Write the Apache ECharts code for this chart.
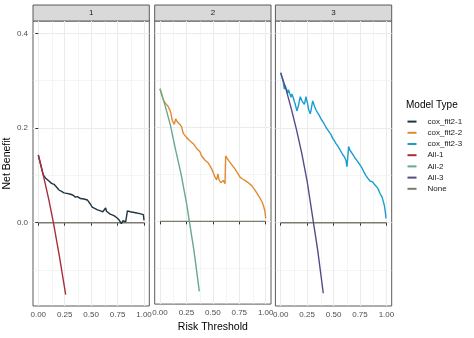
<!DOCTYPE html>
<html>
<head>
<meta charset="utf-8">
<script src="https://cdn.jsdelivr.net/npm/echarts@6/dist/echarts.min.js"></script>
<style>html,body{margin:0;padding:0;background:#fff}#c{width:474px;height:338px}</style>
</head>
<body>
<div id="c"></div>
<script>
// ---- data ----
const panels = ['1', '2', '3'];
const xTicks = [0, 0.25, 0.5, 0.75, 1];
const xMinor = [0.125, 0.375, 0.625, 0.875];
const yTicks = [0, 0.2, 0.4];
const yMinor = [-0.1, 0.1, 0.3];

const coxFit1 = [[0,0.143],[0.02,0.125],[0.047,0.101],[0.07,0.094],[0.101,0.088],[0.125,0.083],[0.149,0.081],[0.17,0.076],[0.196,0.069],[0.22,0.066],[0.243,0.063],[0.27,0.062],[0.306,0.060],[0.33,0.058],[0.35,0.054],[0.369,0.055],[0.40,0.051],[0.432,0.050],[0.45,0.046],[0.464,0.048],[0.49,0.040],[0.51,0.033],[0.527,0.030],[0.56,0.027],[0.590,0.025],[0.61,0.023],[0.637,0.031],[0.645,0.024],[0.653,0.020],[0.68,0.018],[0.716,0.015],[0.74,0.011],[0.763,0.006],[0.786,-0.002],[0.80,0.004],[0.811,0.006],[0.827,0.002],[0.836,0.003],[0.843,0.025],[0.87,0.023],[0.92,0.021],[0.96,0.019],[0.994,0.017],[1.0,0.005]];
const all1 = [[0,0.143],[0.05,0.098],[0.10,0.048],[0.143,0.0],[0.20,-0.071],[0.259,-0.152]];

const coxFit2 = [[0,0.282],[0.015,0.27],[0.031,0.259],[0.047,0.252],[0.063,0.253],[0.075,0.245],[0.085,0.242],[0.095,0.236],[0.104,0.229],[0.115,0.215],[0.126,0.214],[0.135,0.206],[0.148,0.218],[0.16,0.213],[0.173,0.211],[0.189,0.206],[0.205,0.201],[0.22,0.187],[0.237,0.189],[0.252,0.178],[0.268,0.182],[0.284,0.171],[0.30,0.170],[0.315,0.165],[0.331,0.160],[0.347,0.155],[0.36,0.152],[0.378,0.148],[0.394,0.139],[0.41,0.136],[0.426,0.130],[0.442,0.128],[0.457,0.124],[0.473,0.118],[0.489,0.111],[0.505,0.103],[0.52,0.094],[0.536,0.088],[0.548,0.101],[0.558,0.089],[0.574,0.082],[0.583,0.083],[0.599,0.087],[0.605,0.083],[0.615,0.080],[0.621,0.139],[0.638,0.133],[0.653,0.128],[0.68,0.120],[0.71,0.111],[0.73,0.104],[0.757,0.094],[0.78,0.090],[0.804,0.087],[0.83,0.083],[0.868,0.076],[0.90,0.066],[0.93,0.055],[0.95,0.048],[0.968,0.040],[0.98,0.032],[0.993,0.021],[1.0,0.006]];
const all2 = [[0,0.282],[0.05,0.245],[0.10,0.203],[0.142,0.158],[0.20,0.100],[0.25,0.04],[0.278,0.0],[0.32,-0.06],[0.372,-0.149]];

const coxFit3 = [[0,0.316],[0.015,0.305],[0.025,0.296],[0.034,0.282],[0.042,0.290],[0.05,0.286],[0.058,0.280],[0.066,0.273],[0.074,0.281],[0.082,0.284],[0.09,0.270],[0.098,0.265],[0.106,0.272],[0.114,0.276],[0.122,0.262],[0.129,0.256],[0.138,0.250],[0.145,0.246],[0.153,0.236],[0.161,0.232],[0.169,0.248],[0.177,0.258],[0.185,0.266],[0.192,0.264],[0.200,0.258],[0.208,0.255],[0.216,0.262],[0.224,0.250],[0.232,0.258],[0.239,0.266],[0.247,0.258],[0.255,0.251],[0.263,0.240],[0.271,0.236],[0.279,0.230],[0.287,0.237],[0.295,0.248],[0.303,0.257],[0.311,0.252],[0.318,0.247],[0.334,0.238],[0.350,0.232],[0.366,0.226],[0.382,0.219],[0.397,0.214],[0.413,0.208],[0.429,0.201],[0.445,0.196],[0.460,0.192],[0.476,0.186],[0.492,0.178],[0.508,0.173],[0.523,0.167],[0.540,0.162],[0.556,0.156],[0.571,0.152],[0.586,0.144],[0.602,0.139],[0.617,0.132],[0.627,0.118],[0.635,0.140],[0.643,0.161],[0.655,0.153],[0.665,0.149],[0.685,0.143],[0.705,0.136],[0.725,0.130],[0.744,0.124],[0.765,0.117],[0.785,0.108],[0.805,0.100],[0.823,0.094],[0.845,0.088],[0.87,0.086],[0.89,0.080],[0.918,0.073],[0.939,0.062],[0.959,0.054],[0.97,0.045],[0.98,0.037],[0.99,0.022],[0.996,0.009]];
const all3 = [[0,0.317],[0.05,0.282],[0.10,0.241],[0.15,0.196],[0.20,0.146],[0.25,0.088],[0.31,0.0],[0.35,-0.058],[0.403,-0.149]];

const none = [[0,0],[1,0]];

const legendNames = ['cox_fit2-1','cox_fit2-2','cox_fit2-3','All-1','All-2','All-3','None'];
const colors = {'cox_fit2-1':'#1f3542','cox_fit2-2':'#e08b30','cox_fit2-3':'#1b9dd0','All-1':'#a5303a','All-2':'#68a88c','All-3':'#574b87','None':'#7d7a70'};

// ---- layout ----
const FONT = 'Liberation Sans, Arial, sans-serif';
const gLeft = [33, 154.7, 275.4], gW = 116.3, gTop = 21, gH = 285;
const X_MIN = -0.05, X_MAX = 1.05, Y_MIN = -0.176, Y_MAX = 0.426;

const grids = [], xAxes = [], yAxes = [], series = [], graphics = [];
panels.forEach((p, i) => {
  grids.push({left: gLeft[i], top: gTop, width: gW, height: gH, show: true,
    borderColor: '#5a5a5a', borderWidth: 1, backgroundColor: '#fff', containLabel: false});
  xAxes.push({type: 'value', gridIndex: i, min: X_MIN, max: X_MAX,
    axisLine: {show: false}, splitLine: {show: false},
    axisTick: {show: true, customValues: xTicks, length: 3, lineStyle: {color: '#333'}},
    axisLabel: {customValues: xTicks, formatter: v => v.toFixed(2), fontSize: 8, color: '#4d4d4d', margin: 5, fontFamily: FONT},
    name: i === 1 ? 'Risk Threshold' : '', nameLocation: 'middle', nameGap: 14,
    nameTextStyle: {fontSize: 10.5, color: '#000', fontFamily: FONT}});
  yAxes.push({type: 'value', gridIndex: i, min: Y_MIN, max: Y_MAX,
    axisLine: {show: false}, splitLine: {show: false},
    axisTick: {show: i === 0, customValues: yTicks, length: 3, lineStyle: {color: '#333'}},
    axisLabel: {show: i === 0, customValues: yTicks, formatter: v => v.toFixed(1), fontSize: 8, color: '#4d4d4d', margin: 5, fontFamily: FONT},
    name: i === 0 ? 'Net Benefit' : '', nameLocation: 'middle', nameGap: 16,
    nameTextStyle: {fontSize: 10.5, color: '#000', fontFamily: FONT}});
  // grid lines
  const ml = [];
  xMinor.forEach(v => ml.push({xAxis: v, lineStyle: {width: 0.5}}));
  yMinor.forEach(v => ml.push({yAxis: v, lineStyle: {width: 0.5}}));
  xTicks.forEach(v => ml.push({xAxis: v, lineStyle: {width: 1}}));
  yTicks.forEach(v => ml.push({yAxis: v, lineStyle: {width: 1}}));
  series.push({type: 'line', name: 'grid' + i, xAxisIndex: i, yAxisIndex: i, data: [[0, 0]],
    showSymbol: false, lineStyle: {opacity: 0}, silent: true, z: 0,
    markLine: {silent: true, z: 0, zlevel: 0, symbol: ['none', 'none'], label: {show: false}, animation: false,
      lineStyle: {color: '#ebebeb', type: 'solid'}, data: ml}});
  // strip
  graphics.push({type: 'rect', shape: {x: gLeft[i], y: 5, width: gW, height: 16},
    style: {fill: '#d9d9d9', stroke: '#5a5a5a', lineWidth: 1}});
  graphics.push({type: 'text', x: gLeft[i] + gW / 2, y: 13,
    style: {text: p, fill: '#1a1a1a', font: '8px ' + FONT, textAlign: 'center', textVerticalAlign: 'middle'}});
});

function addLine(name, data, idx) {
  series.push({type: 'line', name, data, xAxisIndex: idx, yAxisIndex: idx, showSymbol: false,
    symbol: 'none', color: colors[name], lineStyle: {color: colors[name], width: 1.4}, z: 3, animation: false});
}
addLine('None', none, 0);
addLine('None', none, 1);
addLine('None', none, 2);
addLine('cox_fit2-1', coxFit1, 0);
addLine('cox_fit2-2', coxFit2, 1);
addLine('cox_fit2-3', coxFit3, 2);
addLine('All-1', all1, 0);
addLine('All-2', all2, 1);
addLine('All-3', all3, 2);

const chart = echarts.init(document.getElementById('c'), null, {renderer: 'canvas'});
chart.setOption({
  animation: false,
  textStyle: {fontFamily: FONT},
  title: {text: 'Model Type', left: 406, top: 100, padding: 0,
    textStyle: {fontSize: 10, fontWeight: 'normal', color: '#000', fontFamily: FONT}},
  legend: {orient: 'vertical', left: 407.5, top: 116, padding: 0, itemGap: 0,
    itemWidth: 9, itemHeight: 2,
    data: legendNames.map(n => ({name: n, icon: 'rect'})),
    textStyle: {fontSize: 8, color: '#1a1a1a', lineHeight: 11.2, padding: [0, 0, 0, 6], fontFamily: FONT}},
  grid: grids, xAxis: xAxes, yAxis: yAxes, series, graphic: graphics
});
</script>
</body>
</html>
